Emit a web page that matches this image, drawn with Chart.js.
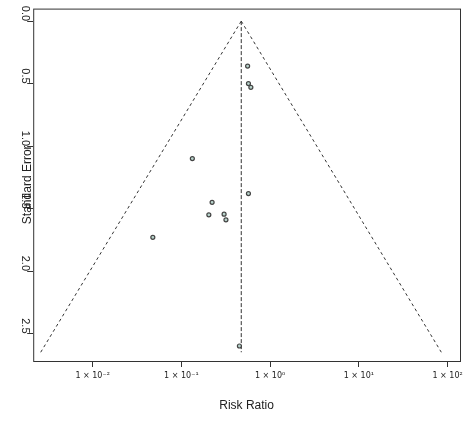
<!DOCTYPE html>
<html><head><meta charset="utf-8">
<script src="https://cdn.jsdelivr.net/npm/chart.js@4/dist/chart.umd.min.js"></script>
<style>html,body{margin:0;padding:0;background:#fff}#w{width:474px;height:424px}</style>
</head><body><div id="w"><canvas id="c"></canvas></div>
<script>
const riskRatio = [0.558,0.57,0.607,0.133,0.57,0.222,0.204,0.303,0.318,0.0477,0.451];
const stdError  = [0.36,0.50,0.53,1.10,1.38,1.45,1.55,1.545,1.59,1.73,2.60];
const pooledRR = 0.473;
const funnelLeft  = [{x:0.0026,y:2.65},{x:0.473,y:0}];
const funnelRight = [{x:0.473,y:0},{x:85,y:2.65}];
const centerLine  = [{x:0.473,y:0},{x:0.473,y:2.65}];
const xTicks = [0.01,0.1,1,10,100];
const xTickLabels = ['1 × 10⁻²','1 × 10⁻¹','1 × 10⁰','1 × 10¹','1 × 10²'];
const yTicks = [0,0.5,1,1.5,2,2.5];

const boxPlugin = {id:'box', afterDraw(c){const a=c.chartArea,ctx=c.ctx;ctx.save();ctx.strokeStyle='#333';ctx.lineWidth=1;ctx.strokeRect(a.left+0.5,a.top+0.5,a.right-a.left,a.bottom-a.top);ctx.restore();}};
const dash = {borderColor:'#333',borderWidth:1,borderDash:[3,3],pointRadius:0,showLine:true,fill:false};
new Chart(document.getElementById('c'),{
 type:'scatter',
 data:{datasets:[
  {data:riskRatio.map((v,i)=>({x:v,y:stdError[i]})),pointRadius:2,pointBorderWidth:1.2,borderColor:'#444',backgroundColor:'#b8d4cc'},
  {...dash,data:funnelLeft},{...dash,data:funnelRight},{...dash,borderDash:[4,2],data:centerLine}
 ]},
 plugins:[boxPlugin],
 options:{animation:false,responsive:true,maintainAspectRatio:false,
  layout:{padding:{top:5,right:14,left:16,bottom:7}},
  plugins:{legend:{display:false},tooltip:{enabled:false}},
  scales:{
   x:{type:'logarithmic',min:0.00214,max:138,
     afterBuildTicks(s){s.ticks=xTicks.map(v=>({value:v}));},
     ticks:{callback:(v)=>xTickLabels[xTicks.indexOf(v)]||'',color:'#222',font:{family:'DejaVu Sans',size:8},maxRotation:0,autoSkip:false,padding:4},
     grid:{drawOnChartArea:false,tickLength:6,color:'#333'},border:{display:false},
     title:{display:true,text:'Risk Ratio',color:'#222',font:{family:'Liberation Sans',size:12},padding:{top:14}}},
   y:{reverse:true,min:-0.1,max:2.72,
     afterBuildTicks(s){s.ticks=yTicks.map(v=>({value:v}));},
     ticks:{callback:(v)=>v.toFixed(1),color:'#222',font:{family:'Liberation Sans',size:11},minRotation:-90,maxRotation:-90,padding:2},
     grid:{drawOnChartArea:false,tickLength:6,color:'#333'},border:{display:false},
     title:{display:true,text:'Standard Error',color:'#222',font:{family:'Liberation Sans',size:12},padding:{bottom:2}}}
  }}
});
</script></body></html>
